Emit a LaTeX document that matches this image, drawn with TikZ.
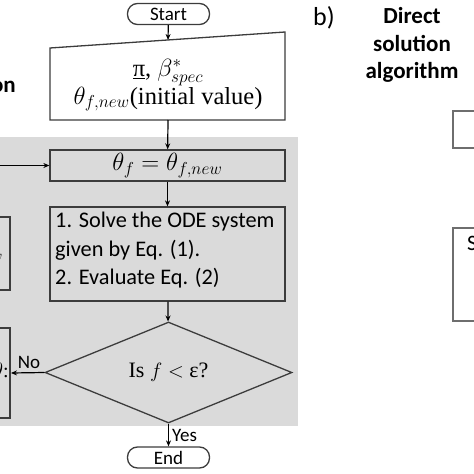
\documentclass[tikz,border=0pt]{standalone}
\usepackage{fontspec}
\setmainfont{Liberation Serif}
\setsansfont{Carlito}
\usetikzlibrary{shapes.geometric,arrows.meta}
\definecolor{bggray}{HTML}{DADADA}
\definecolor{edge}{HTML}{3C3C3C}
\definecolor{edgelight}{HTML}{6E6E6E}
\tikzset{
  box/.style={draw=edge,line width=1.3pt,fill=bggray,inner sep=0pt},
  plainbox/.style={draw=edge,line width=1.3pt,fill=white,inner sep=0pt},
  term/.style={draw=edge,line width=1.3pt,fill=white,rounded corners=10pt,minimum width=82pt,minimum height=21pt,inner sep=0pt,font=\sffamily\fontsize{19}{20}\selectfont},
  flow/.style={draw=black,line width=1.2pt,-{Stealth[length=6pt,width=5pt]}},
  lbl/.style={font=\sffamily\fontsize{19}{20}\selectfont,inner sep=0pt},
  head/.style={font=\sffamily\bfseries\fontsize{23}{27.5}\selectfont,align=center,inner sep=0pt}
}
\begin{document}
\begin{tikzpicture}[x=1pt,y=-1pt]
\useasboundingbox (0,0) rectangle (474,474);
% gray background
\fill[bggray] (-5,137) rectangle (298,426);
% left partial heading
\node[head,anchor=east] (lh) at (16,87) {on};
% start
\node[term] (start) at (168.5,14) {Start};
% manual input
\draw[plainbox] (50,48) -- (285,32) -- (285,120) -- (50,120) -- cycle;
\coordinate (inptop) at (168,40);
\coordinate (inpbot) at (168,120);
\node[inner sep=0pt,align=center,font=\fontsize{24.5}{27}\selectfont] (inp) at (168,85) {\underline{π}, $\beta^{*}_{spec}$\\[1pt]$\theta_{f,new}$(initial value)};
\draw[flow] (start) -- (inptop);
% assignment
\node[box,minimum width=235pt,minimum height=31pt,font=\fontsize{23}{24}\selectfont] (assign) at (167.5,165.5) {$\theta_f = \theta_{f,new}$};
\draw[flow] (inpbot) -- (assign);
\coordinate (fb) at (-5,165.5);
\draw[flow] (fb) -- (assign.west);
% process
\node[box,minimum width=235pt,minimum height=94pt] (proc) at (167.5,254) {};
\node[anchor=north west,align=left,inner sep=0pt,font=\sffamily\fontsize{22.3}{28.5}\selectfont] (proctext) at (55,212) {1. Solve the ODE system\\given by Eq. (1).\\2. Evaluate Eq. (2)};
\draw[flow] (assign) -- (proc);
% decision
\node[diamond,draw=edge,line width=1.3pt,fill=bggray,minimum width=247pt,minimum height=101pt,inner sep=0pt,font=\fontsize{22}{24}\selectfont] (dec) at (168.5,372.5) {Is $f<$ ε?};
\draw[flow] (proc) -- (dec);
% left partial boxes
\node[box,minimum width=100pt,minimum height=73pt] (lb1) at (-40,253.5) {};
\node[anchor=east,inner sep=0pt,font=\fontsize{20}{22}\selectfont] (lb1t) at (3,253) {$\theta_{f,new}$};
\node[box,minimum width=100pt,minimum height=90pt] (lb2) at (-40,373) {};
\node[anchor=east,inner sep=0pt,font=\fontsize{20}{22}\selectfont] (lb2t) at (9,370) {$\theta$:};
\coordinate (noend) at (11,373);
\draw[flow] (dec.west) -- (noend);
\node[lbl] (no) at (29,362) {No};
% end
\node[term] (end) at (168.5,457.5) {End};
\draw[flow] (dec.south) -- (end);
\node[lbl,anchor=west] (yes) at (172,435.5) {Yes};
% right side
\node[font=\sffamily\fontsize{26}{28}\selectfont,inner sep=0pt] (b) at (324,18) {b)};
\node[head] (rh) at (412,45) {Direct\\solution\\algorithm};
\node[draw=edgelight,line width=1.3pt,minimum width=100pt,minimum height=37pt] (rb1) at (503,129.5) {};
\node[draw=edgelight,line width=1.3pt,minimum width=100pt,minimum height=93pt] (rb2) at (503,274.5) {};
\node[anchor=north west,inner sep=0pt,font=\sffamily\fontsize{22}{24}\selectfont] (rb2t) at (467,236) {S};
\end{tikzpicture}
\end{document}
